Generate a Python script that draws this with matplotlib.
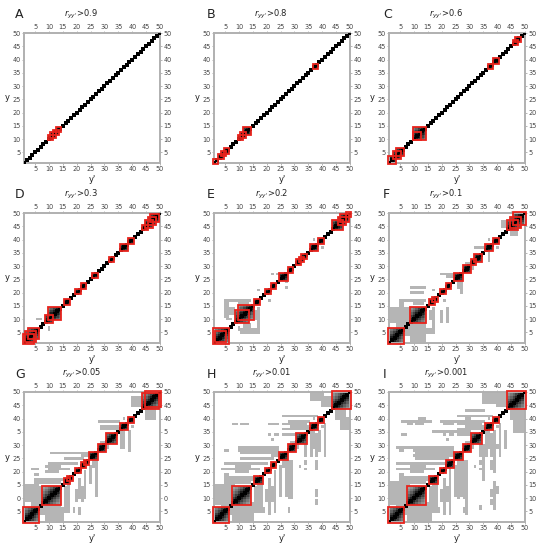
import numpy as np
import matplotlib.pyplot as plt
from matplotlib.patches import Rectangle

N = 50
letters = ["A", "B", "C", "D", "E", "F", "G", "H", "I"]
thresholds = ["0.9", "0.8", "0.6", "0.3", "0.2", "0.1", "0.05", "0.01", "0.001"]

# red blocks per panel (first, last variable)
blocks = [
    [(10, 11), (11, 12), (12, 13), (13, 14)],
    [(1, 2), (3, 4), (4, 5), (5, 6), (10, 11), (11, 12), (12, 14), (37, 38)],
    [(1, 3), (3, 5), (4, 6), (10, 12), (10, 14), (37, 38), (39, 40), (46, 47), (47, 48)],
    [(1, 4), (2, 5), (3, 6), (9, 11), (10, 14), (16, 17), (20, 21), (22, 23), (26, 27),
     (32, 33), (36, 38), (39, 40), (44, 45), (45, 47), (46, 48), (47, 49)],
    [(1, 6), (2, 5), (9, 13), (10, 15), (16, 17), (20, 21), (22, 23), (25, 27), (28, 29),
     (31, 32), (32, 33), (33, 34), (36, 38), (39, 40), (44, 47), (46, 48), (47, 49), (49, 50)],
    [(1, 6), (9, 14), (16, 17), (17, 18), (20, 21), (22, 23), (25, 27), (28, 30), (31, 32),
     (32, 34), (36, 38), (39, 40), (44, 47), (45, 48), (46, 50)],
    [(1, 6), (8, 14), (16, 17), (17, 18), (20, 21), (22, 23), (23, 24), (25, 27), (28, 30),
     (31, 34), (36, 38), (39, 40), (44, 49), (45, 50)],
    [(1, 6), (8, 14), (16, 18), (20, 21), (22, 23), (25, 27), (28, 30), (31, 34), (36, 38),
     (39, 40), (44, 50)],
    [(1, 6), (8, 14), (16, 18), (20, 21), (22, 24), (25, 27), (28, 30), (31, 34), (36, 38),
     (39, 40), (44, 50)],
]

# grey cells above threshold outside the blocks: (x0, x1, y0, y1, first panel shown)
# given for y > x, mirrored to the other side
grey_rects = [
    (6, 7, 10, 10, 3),
    (5, 14, 17, 17, 4), (5, 6, 11, 16, 4), (7, 8, 12, 14, 4), (10, 13, 16, 16, 4),
    (17, 17, 21, 21, 4), (22, 22, 27, 27, 4), (24, 24, 27, 27, 4), (37, 37, 40, 40, 4),
    (2, 8, 9, 14, 5), (4, 8, 7, 8, 5), (9, 14, 22, 22, 5), (9, 13, 20, 20, 5),
    (20, 24, 27, 27, 5), (22, 24, 26, 26, 5), (29, 30, 31, 31, 5), (32, 35, 37, 37, 5),
    (42, 43, 45, 47, 5),
    (1, 6, 15, 15, 6), (1, 7, 13, 14, 6), (2, 8, 11, 12, 6), (4, 8, 9, 10, 6),
    (5, 15, 17, 17, 6), (5, 14, 16, 16, 6), (5, 6, 19, 19, 6), (4, 6, 21, 21, 6),
    (10, 17, 21, 21, 6), (10, 20, 23, 23, 6), (16, 22, 25, 25, 6), (11, 16, 27, 27, 6),
    (17, 20, 27, 27, 6), (29, 35, 36, 37, 6), (28, 35, 39, 39, 6), (40, 43, 45, 48, 6),
    (36, 43, 47, 48, 7), (36, 40, 49, 50, 7), (41, 43, 45, 46, 7), (26, 38, 41, 41, 7),
    (8, 9, 38, 38, 7), (11, 13, 38, 38, 7), (21, 22, 38, 38, 7), (23, 24, 38, 38, 7),
    (26, 34, 38, 38, 7), (26, 35, 36, 36, 7), (21, 21, 34, 34, 7), (23, 24, 34, 34, 7),
    (26, 30, 34, 34, 7), (22, 22, 32, 32, 7), (10, 24, 28, 29, 7), (5, 6, 28, 28, 7),
    (11, 21, 25, 25, 7), (5, 20, 23, 23, 7), (5, 17, 21, 21, 7), (5, 15, 17, 18, 7),
    (1, 8, 8, 15, 7),
    (35, 43, 46, 50, 8), (29, 35, 43, 43, 8), (12, 14, 40, 40, 8), (29, 30, 40, 40, 8),
    (6, 16, 39, 39, 8), (20, 30, 39, 39, 8), (17, 30, 35, 35, 8), (6, 7, 34, 34, 8),
    (4, 21, 29, 29, 8), (10, 22, 26, 26, 8), (4, 21, 23, 23, 8), (4, 14, 21, 21, 8),
    (1, 8, 8, 16, 8),
]

# grey level inside blocks by distance from the diagonal
lag_gray = [0.0, 0.12, 0.25, 0.38, 0.48, 0.56, 0.62]
outside_gray = 0.71

ticks = [5, 10, 15, 20, 25, 30, 35, 40, 45, 50]
g_ylabels = ["5", "0", "5", "20", "25", "30", "5", "40", "45", "50"]

col_left = [24, 214, 389]
row_top = [33, 213, 392]
W, H = 136, 130
letter_x = [15, 207, 383]
letter_y = [14, 194, 374]

fig = plt.figure(figsize=(5.44, 5.5), dpi=100)

for p in range(9):
    r, c = divmod(p, 3)
    ax = fig.add_axes([col_left[c] / 544, 1 - (row_top[r] + H) / 550, W / 544, H / 550])

    img = np.ones((N, N))
    for x0, x1, y0, y1, lvl in grey_rects:
        if lvl > p:
            continue
        for yy in range(y0, y1 + 1):
            for xx in range(x0, x1 + 1):
                if xx != yy:
                    img[yy - 1, xx - 1] = outside_gray
                    img[xx - 1, yy - 1] = outside_gray
    for a, b in blocks[p]:
        for i in range(a, b + 1):
            for j in range(a, b + 1):
                lag = min(abs(i - j), len(lag_gray) - 1)
                img[i - 1, j - 1] = min(img[i - 1, j - 1], lag_gray[lag])

    ax.imshow(img, cmap="gray", vmin=0, vmax=1, origin="lower",
              extent=(0.5, N + 0.5, 0.5, N + 0.5), interpolation="nearest", aspect="auto")
    idx = np.arange(1, N + 1)
    ax.scatter(idx, idx, marker="s", s=9, c="black", linewidths=0, zorder=3)
    for a, b in blocks[p]:
        ax.add_patch(Rectangle((a - 0.5, a - 0.5), b - a + 1, b - a + 1, fill=False,
                               edgecolor="#e8231c", lw=1.3, zorder=4, clip_on=False))

    ax.set_xlim(1, N)
    ax.set_ylim(1, N)
    ax.set_xticks(ticks)
    ax.set_yticks(ticks)
    if p == 6:
        ax.set_yticklabels(g_ylabels)
    ax.tick_params(direction="out", length=1.5, width=0.5, color="#999999", pad=1,
                   labelsize=4.7, labelcolor="#444444", top=True, right=True,
                   labeltop=True, labelright=True)
    for s in ax.spines.values():
        s.set_color("#b0b0b0")
        s.set_linewidth(1.4)

    ax.text(0.42, 1.14, r"$r_{yy'}$>" + thresholds[p], transform=ax.transAxes,
            ha="center", va="center", fontsize=6, color="#222222")
    ax.text(0.5, -0.125, "y'", transform=ax.transAxes, ha="center", va="center",
            fontsize=6, color="#222222")
    ax.text(-0.125, 0.5, "y", transform=ax.transAxes, ha="center", va="center",
            fontsize=6, color="#222222")
    fig.text(letter_x[c] / 544, 1 - letter_y[r] / 550, letters[p], ha="left",
             va="center", fontsize=9, color="#222222")

fig.savefig("out.png", dpi=100)
